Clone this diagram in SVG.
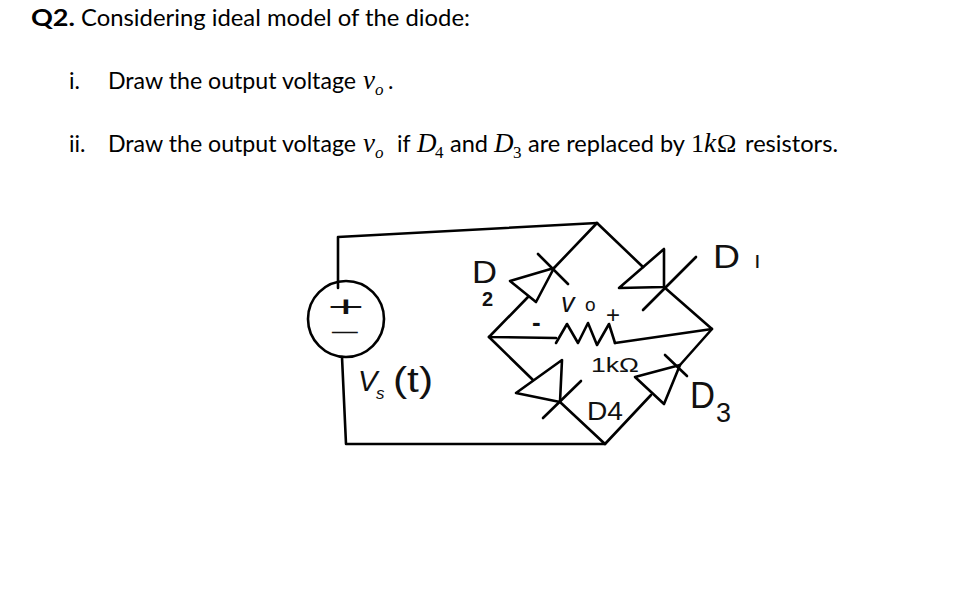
<svg xmlns="http://www.w3.org/2000/svg" width="959" height="613" viewBox="0 0 959 613">
<style>
.t{font-family:"Lato","Liberation Sans",sans-serif;font-size:23px;fill:#000}
.b{font-weight:700}
.m{font-family:"Liberation Serif",serif;font-style:italic;font-size:27px;fill:#000}
.n{font-family:"Liberation Serif",serif;font-size:26px;fill:#000}
.s{font-size:17px}
.w{fill:none;stroke:#000;stroke-width:2.6;stroke-linecap:round;stroke-linejoin:round}
.h{font-family:"Liberation Sans",sans-serif;fill:#111}
</style>
<rect width="959" height="613" fill="#fff"/>
<g id="question">
<text class="t b" x="31" y="26" textLength="44" lengthAdjust="spacingAndGlyphs">Q2.</text>
<text class="t" x="81" y="26" textLength="389" lengthAdjust="spacingAndGlyphs">Considering ideal model of the diode:</text>
<text class="t" x="69" y="89">i.</text>
<text class="t" x="108" y="89" textLength="248" lengthAdjust="spacingAndGlyphs">Draw the output voltage</text>
<text class="m" x="363" y="89">v</text><text class="m s" x="375" y="95">o</text><text class="t" x="388" y="89">.</text>
<text class="t" x="69" y="152">ii.</text>
<text class="t" x="108" y="152" textLength="248" lengthAdjust="spacingAndGlyphs">Draw the output voltage</text>
<text class="m" x="363" y="152">v</text><text class="m s" x="375" y="158">o</text>
<text class="t" x="397" y="152">if</text>
<text class="m" x="417" y="152">D</text><text class="n s" x="435" y="158">4</text>
<text class="t" x="450" y="152" textLength="38" lengthAdjust="spacingAndGlyphs">and</text>
<text class="m" x="494" y="152">D</text><text class="n s" x="513" y="158">3</text>
<text class="t" x="528" y="152" textLength="157" lengthAdjust="spacingAndGlyphs">are replaced by</text>
<text class="n" x="691" y="152">1</text><text class="m" x="704" y="152">k</text><text class="n" x="717" y="152">Ω</text>
<text class="t" x="745" y="152" textLength="93" lengthAdjust="spacingAndGlyphs">resistors.</text>
</g>
<g id="connectors">
<path class="w" d="M338 288V237L597 223L643 267"/>
<path class="w" d="M597 223L554 268"/>
<path class="w" d="M664 287L712 329L615 343"/>
<path class="w" d="M712 329L680 365"/>
<path class="w" d="M528 297L489 337L556 338"/>
<path class="w" d="M489 337L533 380"/>
<path class="w" d="M342 357L346 444H605L560 402"/>
<path class="w" d="M605 444L651 395"/>
</g>
<g id="source">
<circle class="w" cx="346" cy="319" r="38"/>
<text class="h" transform="translate(346 317) scale(2.1 1)" x="0" y="0" font-size="30" text-anchor="middle">+</text>
<text class="h" transform="translate(344 337) scale(3.5 1)" x="0" y="0" font-size="14" text-anchor="middle" stroke="#111" stroke-width="0.6">−</text>
<text class="h" x="358" y="391" font-size="29" font-style="italic">V</text>
<text class="h" x="376" y="399" font-size="17" font-style="italic">s</text>
<text class="h" x="393" y="392" font-size="35" font-weight="300" textLength="40" lengthAdjust="spacingAndGlyphs">(t)</text>
</g>
<g id="D1">
<path class="w" d="M664 249V287L619 288Z"/>
<path class="w" d="M643 310L696 257"/>
<text class="h" x="713" y="268" font-size="33" textLength="27" lengthAdjust="spacingAndGlyphs">D</text>
<text class="h" x="754" y="268" font-size="24">ı</text>
</g>
<g id="D2">
<path class="w" d="M554 268L510 281L536 302Z"/>
<path class="w" d="M538 254L568 284"/>
<text class="h" x="472" y="283" font-size="32" textLength="25" lengthAdjust="spacingAndGlyphs">D</text>
<text class="h" x="482" y="306" font-size="20" font-weight="700">2</text>
</g>
<g id="D3">
<path class="w" d="M680 365L635 377L664 404Z"/>
<path class="w" d="M665 355L687 376"/>
<text class="h" x="690" y="408" font-size="36" textLength="25" lengthAdjust="spacingAndGlyphs">D</text>
<text class="h" x="716" y="422" font-size="28" textLength="15" lengthAdjust="spacingAndGlyphs">3</text>
</g>
<g id="D4">
<path class="w" d="M560 402L516 393L562 360Z"/>
<path class="w" d="M543 418L581 381"/>
<text class="h" x="587" y="420" font-size="25" textLength="36" lengthAdjust="spacingAndGlyphs">D4</text>
</g>
<g id="load">
<path class="w" d="M556 343L567 324L578 343L588 323L597 345L609 324L615 343"/>
<text class="h" x="561" y="312" font-size="27" font-style="italic">v</text>
<text class="h" x="585" y="311" font-size="19">o</text>
<text class="h" x="606" y="323" font-size="24">+</text>
<text class="h" x="532" y="331" font-size="26" font-weight="700">-</text>
<text class="h" x="591" y="372" font-size="21" textLength="48" lengthAdjust="spacingAndGlyphs">1kΩ</text>
</g>
</svg>
